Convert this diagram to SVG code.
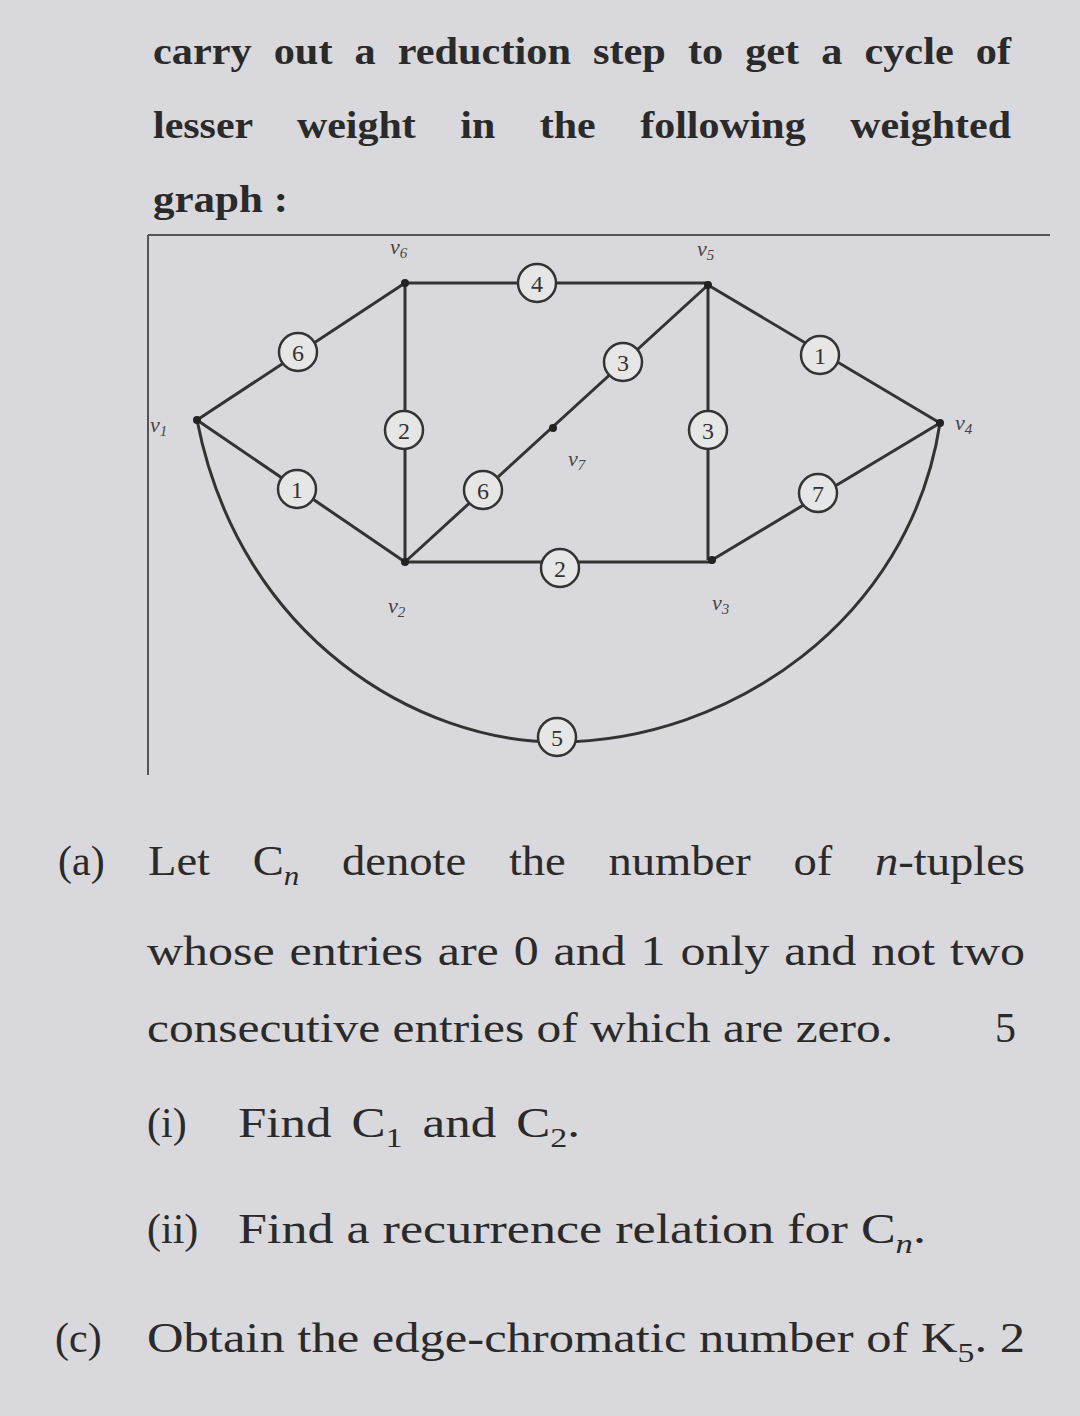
<svg xmlns="http://www.w3.org/2000/svg" width="1080" height="1416" viewBox="0 0 1080 1416">
<style>
.t{font-family:"Liberation Serif",serif;fill:#2a2a2a}
.top{font-size:37px;font-weight:bold}
.b{font-size:42px}
.e{stroke:#333;stroke-width:3;fill:none}
.w circle{fill:#e6e6e6;stroke:#333;stroke-width:2.5}
.w text{font-family:"Liberation Serif",serif;font-size:24px;fill:#333;text-anchor:middle}
.v text{font-family:"Liberation Serif",serif;font-size:22px;font-style:italic;fill:#444}
.v circle{fill:#222}
</style>
<rect width="1080" height="1416" fill="#d9d8dc"/>
<text class="t top" x="153" y="64" word-spacing="10" textLength="858" lengthAdjust="spacingAndGlyphs">carry out a reduction step to get a cycle of</text>
<text class="t top" x="153" y="138" word-spacing="30" textLength="858" lengthAdjust="spacingAndGlyphs">lesser weight in the following weighted</text>
<text class="t top" x="153" y="212" textLength="135" lengthAdjust="spacingAndGlyphs">graph :</text>
<path d="M148,235 H1050 M148,235 V775" stroke="#555" stroke-width="2" fill="none"/>
<g id="connectors">
<path class="e" d="M197,420 L405,283 M197,420 L405,562 M405,283 V562 M405,283 H708 M405,562 L708,285 M405,562 H712 M708,285 V560 M708,285 L940,423 M712,560 L940,423"/>
<path class="e" d="M197,420 C240,640 420,742 557,742 C730,742 910,620 940,423"/>
</g>
<g class="w">
<g id="w16"><circle cx="298" cy="352" r="19"/><text x="298" y="361">6</text></g>
<g id="w12"><circle cx="297" cy="489" r="19"/><text x="297" y="498">1</text></g>
<g id="w62"><circle cx="404" cy="430" r="19"/><text x="404" y="439">2</text></g>
<g id="w65"><circle cx="537" cy="283" r="19"/><text x="537" y="292">4</text></g>
<g id="w75"><circle cx="623" cy="362" r="19"/><text x="623" y="371">3</text></g>
<g id="w27"><circle cx="483" cy="490" r="19"/><text x="483" y="499">6</text></g>
<g id="w23"><circle cx="560" cy="568" r="19"/><text x="560" y="577">2</text></g>
<g id="w53"><circle cx="708" cy="430" r="19"/><text x="708" y="439">3</text></g>
<g id="w54"><circle cx="820" cy="355" r="19"/><text x="820" y="364">1</text></g>
<g id="w34"><circle cx="818" cy="493" r="19"/><text x="818" y="502">7</text></g>
<g id="w14"><circle cx="557" cy="737" r="19"/><text x="557" y="746">5</text></g>
</g>
<g class="v">
<g id="v1"><circle cx="197" cy="420" r="4"/><text x="150" y="432">v<tspan font-size="15" dy="4">1</tspan></text></g>
<g id="v6"><circle cx="405" cy="283" r="4"/><text x="390" y="254">v<tspan font-size="15" dy="4">6</tspan></text></g>
<g id="v5"><circle cx="708" cy="285" r="4"/><text x="697" y="256">v<tspan font-size="15" dy="4">5</tspan></text></g>
<g id="v4"><circle cx="940" cy="423" r="4"/><text x="955" y="430">v<tspan font-size="15" dy="4">4</tspan></text></g>
<g id="v2"><circle cx="405" cy="562" r="4"/><text x="388" y="613">v<tspan font-size="15" dy="4">2</tspan></text></g>
<g id="v3"><circle cx="712" cy="560" r="4"/><text x="712" y="610">v<tspan font-size="15" dy="4">3</tspan></text></g>
<g id="v7"><circle cx="553" cy="428" r="4"/><text x="568" y="466">v<tspan font-size="15" dy="4">7</tspan></text></g>
</g>
<text class="t b" x="58" y="875">(a)</text>
<text class="t b" x="148" y="875" word-spacing="28" textLength="877" lengthAdjust="spacingAndGlyphs">Let C<tspan font-size="28" dy="10" font-style="italic">n</tspan><tspan dy="-10"> denote the number of </tspan><tspan font-style="italic">n</tspan>-tuples</text>
<text class="t b" x="147" y="965" word-spacing="2" textLength="878" lengthAdjust="spacingAndGlyphs">whose entries are 0 and 1 only and not two</text>
<text class="t b" x="147" y="1042" textLength="746" lengthAdjust="spacingAndGlyphs">consecutive entries of which are zero.</text>
<text class="t b" x="995" y="1042">5</text>
<text class="t b" x="147" y="1137">(i)</text>
<text class="t b" x="238" y="1137" word-spacing="6" textLength="342" lengthAdjust="spacingAndGlyphs">Find C<tspan font-size="28" dy="10">1</tspan><tspan dy="-10"> and C</tspan><tspan font-size="28" dy="10">2</tspan><tspan dy="-10">.</tspan></text>
<text class="t b" x="147" y="1243">(ii)</text>
<text class="t b" x="238" y="1243" textLength="688" lengthAdjust="spacingAndGlyphs">Find a recurrence relation for C<tspan font-size="28" dy="10" font-style="italic">n</tspan><tspan dy="-10">.</tspan></text>
<text class="t b" x="55" y="1352">(c)</text>
<text class="t b" x="147" y="1352" textLength="878" lengthAdjust="spacingAndGlyphs">Obtain the edge-chromatic number of K<tspan font-size="28" dy="10">5</tspan><tspan dy="-10">.  2</tspan></text>
</svg>
